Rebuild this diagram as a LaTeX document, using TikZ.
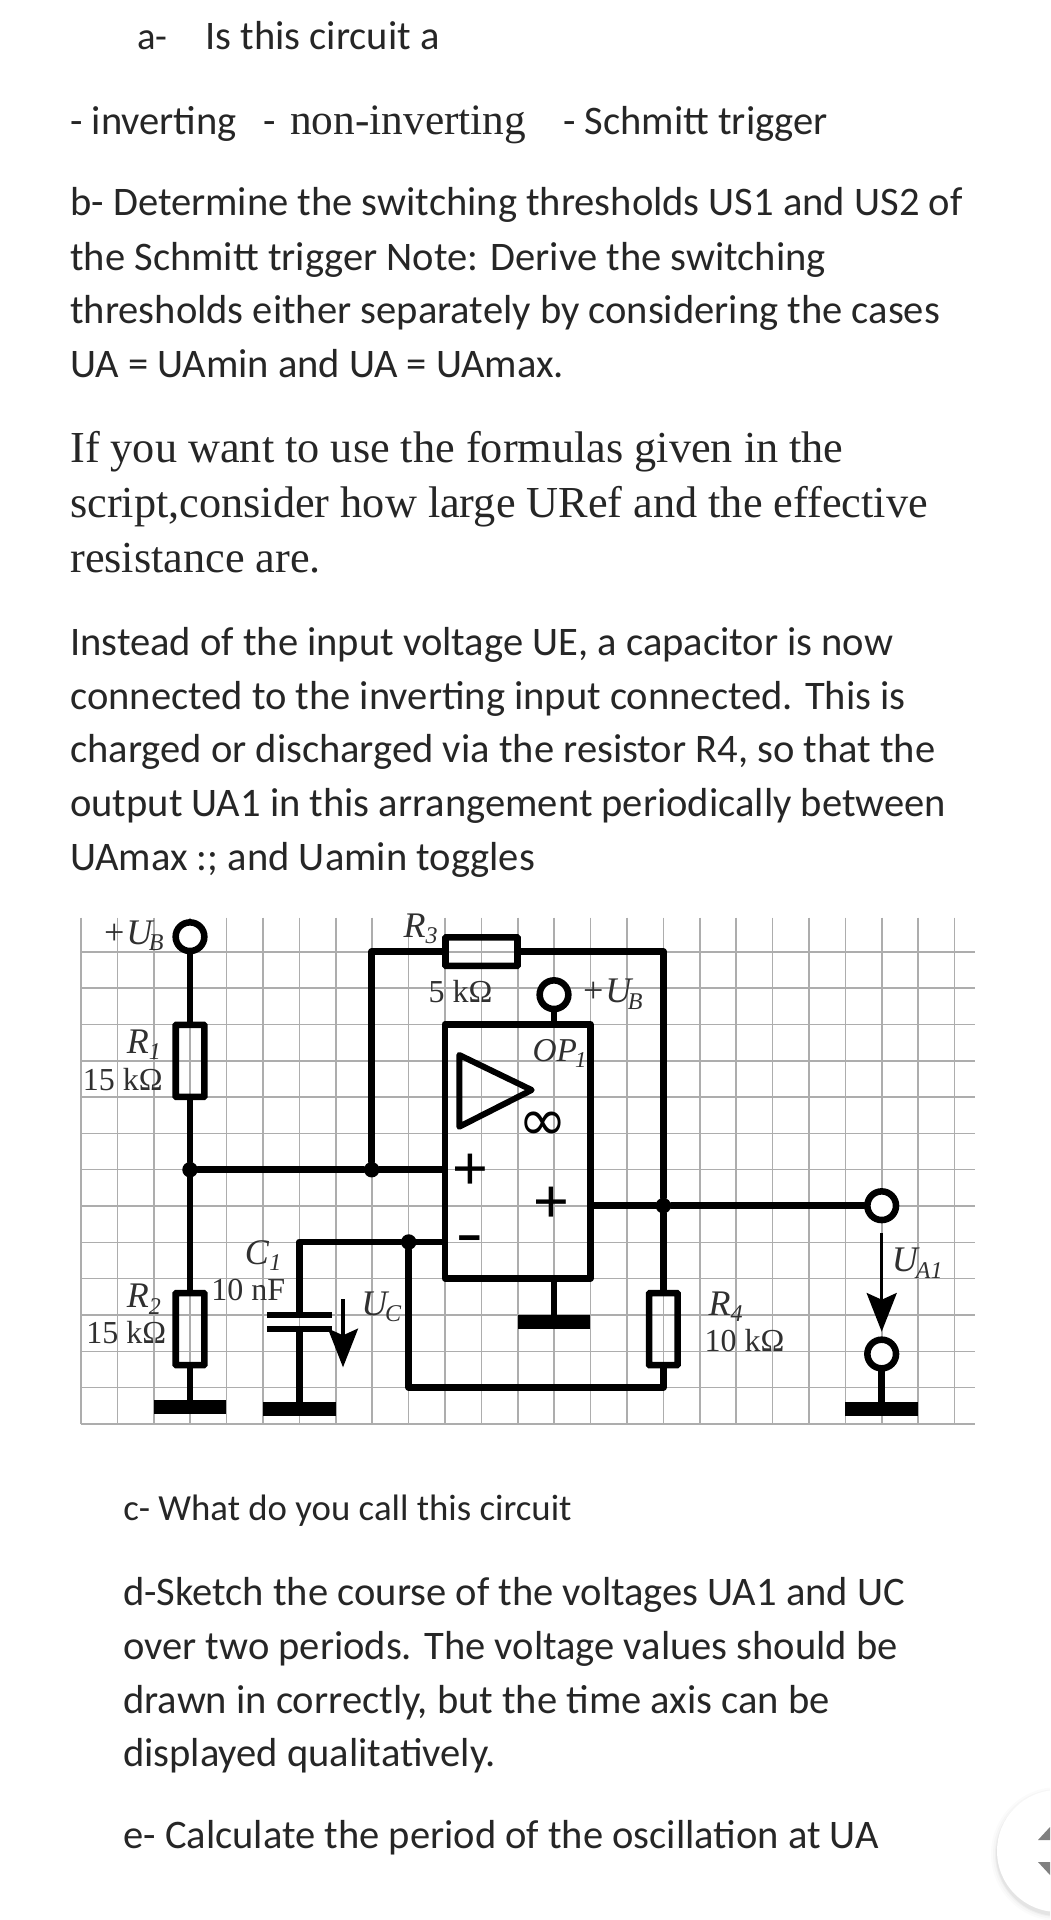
\documentclass[tikz,border=0pt]{standalone}
\usepackage{fontspec}
\usetikzlibrary{arrows.meta}
\setmainfont{Carlito}
\newfontfamily\timesf{Liberation Serif}
\newfontfamily\sansf{Liberation Sans}
\newfontfamily\dejaf{DejaVu Sans}
\newcommand\px[1]{\fontsize{#1}{#1}\selectfont}
\newcommand\lab[3][0pt]{{\fontsize{27}{27}\selectfont\textit{#2}}\kern#1\raisebox{-5pt}{\fontsize{18}{18}\selectfont\textit{#3}}}
\definecolor{gridc}{HTML}{ADADAD}
\definecolor{txt}{HTML}{262626}
\definecolor{lab}{HTML}{303030}
\tikzset{
  x=0.75pt,y=-0.75pt,
  wire/.style={line width=5pt,line cap=round,line join=round},
  gridline/.style={gridc,line width=1.2pt},
  sans/.style={anchor=base west,inner sep=0pt,text=txt,font=\px{30.4}},
  serif/.style={anchor=base west,inner sep=0pt,text=txt,font=\timesf\px{33.2}},
  lbl/.style={anchor=base west,inner sep=0pt,text=lab,font=\timesf\px{24}},
  res/.style={draw,line width=4.9pt,inner sep=0pt,rounded corners=0.5pt},
  term/.style={circle,draw,fill=white,line width=4.9pt,inner sep=0pt,minimum size=21.5pt},
  junc/.style={circle,fill,inner sep=0pt,minimum size=11.6pt},
  gnd/.style={rectangle,fill,inner sep=0pt,minimum width=54.5pt,minimum height=10.5pt},
  plate/.style={rectangle,fill,inner sep=0pt,minimum width=49pt,minimum height=4.6pt},
  sym/.style={inner sep=0pt,text=black},
  volt/.style={line width=2.5pt,-{Stealth[length=29pt,width=22.5pt,inset=5pt]}}
}
\begin{document}
\begin{tikzpicture}
\fill[white] (0,0) rectangle (1050,1920);
\useasboundingbox (0,0) rectangle (1050,1920);
\clip (0,0) rectangle (1050,1920);
% text
\node[sans,font=\px{29}] (t1) at (137,49) {a-};
\node[sans] (t1b) at (205,49) {Is this circuit a};
\node[sans] (t2a) at (70,134) {- inverting};
\node[sans] (t2b) at (263,134) {- };
\node[serif,font=\timesf\px{32.5}] (t2c) at (290,134) {non-inverting};
\node[sans] (t2d) at (563,134) {- Schmitt trigger};
\node[sans] (t3) at (70,215.5) {b- Determine the switching thresholds US1 and US2 of};
\node[sans] (t4) at (70,270) {the Schmitt trigger Note: Derive the switching};
\node[sans] (t5) at (70,323.5) {thresholds either separately by considering the cases};
\node[sans] (t6) at (70,377.5) {UA = UAmin and UA = UAmax.};
\node[serif] (t7) at (70,462) {If you want to use the formulas given in the};
\node[serif] (t8) at (70,517) {script,consider how large URef and the effective};
\node[serif] (t9) at (70,572) {resistance are.};
\node[sans] (t10) at (70,655) {Instead of the input voltage UE, a capacitor is now};
\node[sans] (t11) at (70,709) {connected to the inverting input connected. This is};
\node[sans] (t12) at (70,762) {charged or discharged via the resistor R4, so that the};
\node[sans] (t13) at (70,816) {output UA1 in this arrangement periodically between};
\node[sans] (t14) at (70,870) {UAmax :; and Uamin toggles};
\node[sans,font=\px{27.6}] (t15) at (123,1520) {c- What do you call this circuit};
\node[sans] (t16) at (123,1605) {d-Sketch the course of the voltages UA1 and UC};
\node[sans] (t17) at (123,1659) {over two periods. The voltage values should be};
\node[sans] (t18) at (123,1713) {drawn in correctly, but the time axis can be};
\node[sans] (t19) at (123,1766) {displayed qualitatively.};
\node[sans] (t20) at (123,1848) {e- Calculate the period of the oscillation at UA};
% grid
\foreach \i in {0,...,24} \draw[gridline] ({81+36.4*\i},917.7) -- ({81+36.4*\i},1424);
\foreach \j in {0,...,13} \draw[gridline] (81,{951.7+36.33*\j}) -- (974.7,{951.7+36.33*\j});
% components
\node[term] (ub1) at (190,936.7) {};
\node[res,minimum width=21.4pt,minimum height=54pt] (r1) at (190,1060.8) {};
\node[res,minimum width=21.4pt,minimum height=54pt] (r2) at (190,1329.2) {};
\node[res,minimum width=54pt,minimum height=21.4pt] (r3) at (481.5,951.7) {};
\node[res,minimum width=21.4pt,minimum height=54pt] (r4) at (663.3,1329.2) {};
\node[draw,line width=5pt,line join=round,inner sep=0pt,minimum width=109pt,minimum height=190.5pt] (op) at (517.65,1151.3) {};
\node[term] (ub2) at (554,994.7) {};
\node[term] (ua) at (881.7,1205.7) {};
\node[term] (ub) at (881.7,1354) {};
\node[junc] (j1) at (190,1169.7) {};
\node[junc] (j2) at (371.7,1169.7) {};
\node[junc] (j3) at (408.7,1242) {};
\node[junc] (j4) at (663.3,1205.7) {};
\coordinate (cn) at (299.3,1242);
\coordinate (c1) at (408.7,1387.3);
\coordinate (c2) at (663.3,1387.3);
\node[gnd] (g1) at (190,1407.2) {};
\node[gnd] (g2) at (299.3,1408.8) {};
\node[gnd] (g3) at (554,1322) {};
\node[gnd] (g4) at (881.7,1409.2) {};
\node[plate] (p1) at (299.3,1314.7) {};
\node[plate] (p2) at (299.3,1329.3) {};
% wires
\draw[wire] (ub1) -- (r1);
\draw[wire] (r1) -- (j1);
\draw[wire] (j1) -- (r2);
\draw[wire] (r2) -- (g1);
\draw[wire] (j1) -- (j2);
\draw[wire] (j2) -- (j2 -| op.west);
\draw[wire] (j2) |- (r3);
\draw[wire] (r3) -| (j4);
\draw[wire] (op.east |- j4) -- (j4);
\draw[wire] (j4) -- (ua);
\draw[wire] (j4) -- (r4);
\draw[wire] (r4) -- (c2) -- (c1) -- (j3);
\draw[wire] (j3) -- (j3 -| op.west);
\draw[wire] (j3) -- (cn) -- (p1);
\draw[wire] (p2) -- (g2);
\draw[wire] (ub2) -- (ub2 |- op.north);
\draw[wire] (op.south -| g3) -- (g3);
\draw[wire] (ub) -- (g4);
% op-amp symbols
\path (459.3,1055) coordinate (ta) (531.7,1090) coordinate (tb) (459.3,1126.7) coordinate (tc);
\draw[line width=4.5pt,line join=round] (ta) -- (tb) -- (tc) -- cycle;
\node[sym,font=\sansf\px{46}] (pl) at (470.3,1172) {+};
\node[sym,font=\sansf\bfseries\px{30}] (mi) at (470,1241.7) {\scalebox{2}[1]{-}};
\node[sym,font=\sansf\px{46}] (pr) at (551.7,1204.3) {+};
\node[sym,font=\dejaf\px{44}] (inf) at (543,1126) {∞};
% measuring arrows
\coordinate (ua1) at (881.7,1233.3);
\coordinate (ua2) at (881.7,1331.7);
\draw[volt] (ua1) -- (ua2);
\coordinate (uc1) at (343,1299);
\coordinate (uc2) at (343,1367.3);
\draw[volt] (uc1) -- (uc2);
% labels
\node[lbl] (l1) at (101.7,944.3) {{\fontsize{27}{27}\selectfont\textit{+}}\lab[-4pt]{U}{B}};
\node[lbl] (l2) at (403.3,937.3) {\lab{R}{3}};
\node[lbl] (l3) at (126.7,1053.3) {\lab{R}{1}};
\node[lbl] (l4) at (82.7,1090) {15 kΩ};
\node[lbl] (l5) at (126.7,1307.7) {\lab{R}{2}};
\node[lbl] (l6) at (86,1343.3) {15 kΩ};
\node[lbl] (l7) at (244.7,1264) {\lab{C}{1}};
\node[lbl] (l8) at (211,1300) {10 nF};
\node[lbl] (l9) at (361,1315) {\lab[-3pt]{U}{C}};
\node[lbl] (l10) at (428.3,1002.7) {5 kΩ};
\node[lbl] (l11) at (580.7,1002.7) {{\fontsize{27}{27}\selectfont\textit{+}}\lab[-4pt]{U}{B}};
\node[lbl] (l12) at (532.3,1061) {{\fontsize{25}{25}\selectfont\textit{OP}}\kern-1.5pt\raisebox{-5pt}{\fontsize{17}{17}\selectfont\textit{1}}};
\node[lbl] (l13) at (708.3,1315) {\lab{R}{4}};
\node[lbl] (l14) at (704.3,1351) {10 kΩ};
\node[lbl] (l15) at (891.7,1271.7) {\lab[-3pt]{U}{A1}};
% scroll widget
\foreach \r/\o in {67/0.015,65/0.02,63/0.03,62/0.04}
  \fill[black,opacity=\o] (1058,1854) circle (\r*0.75pt);
\node[circle,fill=white,inner sep=0pt,minimum size=91.5pt] (w) at (1058,1851) {};
\fill[gray] (1038,1840) -- (1050,1827) -- (1050,1840) -- cycle;
\fill[gray] (1038,1862) -- (1050,1875) -- (1050,1862) -- cycle;
\end{tikzpicture}
\end{document}
